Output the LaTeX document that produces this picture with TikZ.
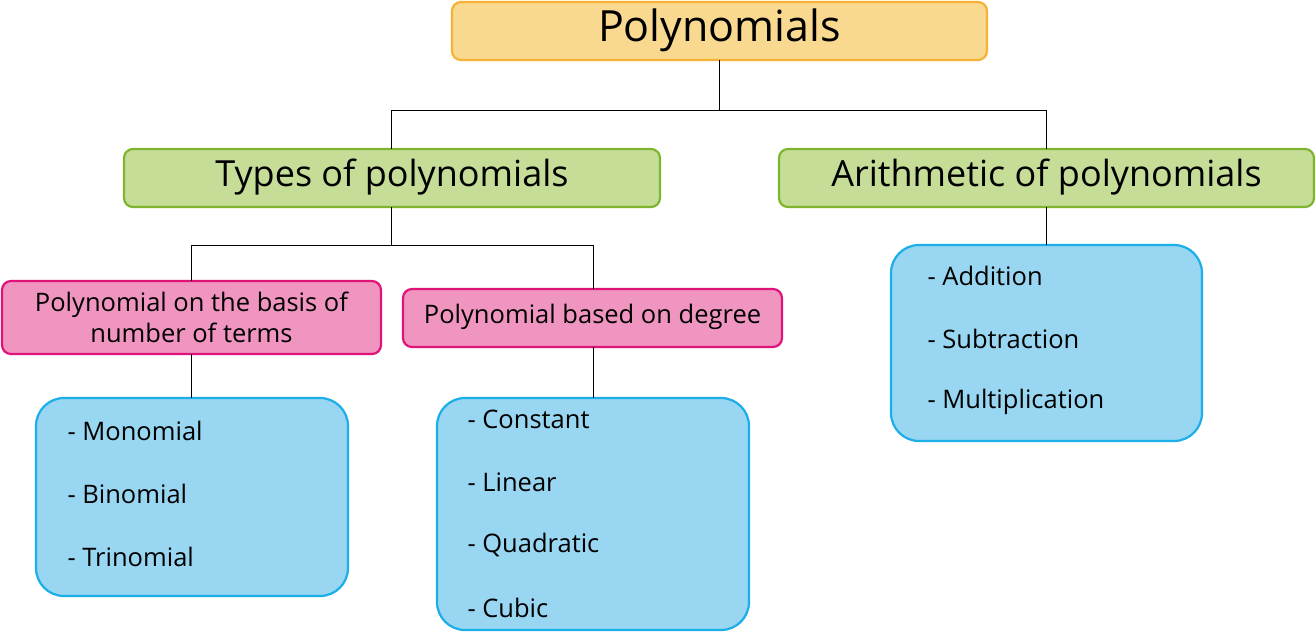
\documentclass[tikz,border=0pt]{standalone}
\usepackage{fontspec}
\setmainfont{Open Sans}
\definecolor{yf}{HTML}{F9D88F}\definecolor{yd}{HTML}{F5B335}
\definecolor{gf}{HTML}{C6DD97}\definecolor{gd}{HTML}{7DB52F}
\definecolor{pf}{HTML}{EF95BF}\definecolor{pd}{HTML}{E0137A}
\definecolor{bf}{HTML}{98D6F1}\definecolor{bd}{HTML}{1BAEE8}
\begin{document}
\begin{tikzpicture}[x=1pt,y=-1pt,
 box/.style={draw,line width=2.2pt,rounded corners=9pt,inner sep=0pt},
 yel/.style={box,fill=yf,draw=yd},
 grn/.style={box,fill=gf,draw=gd},
 pnk/.style={box,fill=pf,draw=pd},
 blu/.style={box,fill=bf,draw=bd,rounded corners=28pt},
 ln/.style={line width=1pt},
 it/.style={anchor=west,font=\fontsize{25.5}{28}\selectfont}]
\useasboundingbox (0,0) rectangle (1316,632);
\draw[yel] (452,2) rectangle (987,60); \node (p) at (719.5,30) {\fontsize{43}{46}\selectfont Polynomials};
\draw[grn] (124,149) rectangle (660,207); \node (t) at (392,177) {\fontsize{36}{40}\selectfont Types of polynomials};
\draw[grn] (779,149) rectangle (1314,207); \node (a) at (1046.5,177) {\fontsize{36}{40}\selectfont Arithmetic of polynomials};
\draw[pnk] (2,281) rectangle (381,354); \node[align=center,font=\fontsize{25.5}{31}\selectfont] (k1) at (191.5,317) {Polynomial on the basis of\\number of terms};
\draw[pnk] (403,289) rectangle (782,347); \node[font=\fontsize{25.5}{28}\selectfont] (k2) at (592.5,317) {Polynomial based on degree};
\draw[blu] (36,398) rectangle (348,596);
\draw[blu] (437,398) rectangle (749,630);
\draw[blu] (891,245) rectangle (1202,441);
\node[it] (m1) at (64,431) {- Monomial};
\node[it] (m2) at (64,494) {- Binomial};
\node[it] (m3) at (64,557) {- Trinomial};
\node[it] (d1) at (464,419) {- Constant};
\node[it] (d2) at (464,482) {- Linear};
\node[it] (d3) at (464,545) {- Quadratic};
\node[it] (d4) at (464,608) {- Cubic};
\node[it] (o1) at (924,276) {- Addition};
\node[it] (o2) at (924,339) {- Subtraction};
\node[it] (o3) at (924,402) {- Multiplication};
\coordinate (pb) at (719,60); \coordinate (tt) at (391,149); \coordinate (at) at (1046,149);
\draw[ln] (pb) -- (719,110) (391,110) -- (1046,110) (tt) -- (391,110) (at) -- (1046,110);
\coordinate (tb) at (391,207);
\draw[ln] (tb) -- (391,245) (191,245) -- (593,245) (191,245) -- (191,281) (593,245) -- (593,289);
\draw[ln] (1046,207) -- (1046,245);
\draw[ln] (191,354) -- (191,398) (593,347) -- (593,398);
\end{tikzpicture}
\end{document}
